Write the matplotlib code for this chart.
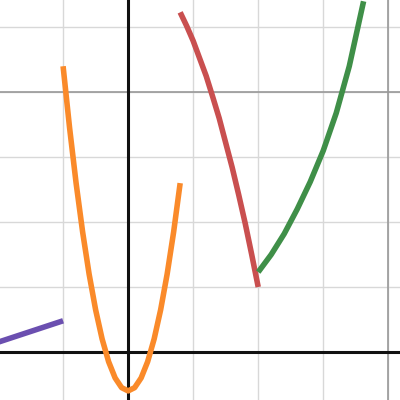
import numpy as np
import matplotlib.pyplot as plt

# values (grid unit = 1)
purple_x = [-2.0, -1.0]
purple_y = [0.15, 0.48]

orange_x = [-1.0, -0.9, -0.8, -0.7, -0.6, -0.5, -0.4, -0.3, -0.2, -0.1, 0.0,
            0.1, 0.2, 0.3, 0.4, 0.5, 0.6, 0.7, 0.8]
orange_y = [4.4, 3.45, 2.6, 1.85, 1.2, 0.65, 0.2, -0.15, -0.4, -0.55, -0.6,
            -0.55, -0.4, -0.15, 0.2, 0.65, 1.2, 1.85, 2.6]

red_x = [0.8, 0.9, 1.0, 1.1, 1.2, 1.3, 1.4, 1.5, 1.6, 1.7, 1.8, 1.9, 2.0]
red_y = [5.23, 5.02, 4.79, 4.52, 4.25, 3.93, 3.6, 3.22, 2.84, 2.42, 1.98, 1.5, 1.0]

green_x = [2.0, 2.2, 2.4, 2.6, 2.8, 3.0, 3.2, 3.4, 3.62]
green_y = [1.23, 1.5, 1.82, 2.2, 2.62, 3.1, 3.68, 4.4, 5.4]

fig = plt.figure(figsize=(4, 4), dpi=100)
ax = fig.add_axes([0, 0, 1, 1])
ax.set_xlim(-1.97, 4.18)
ax.set_ylim(-0.74, 5.42)

for v in range(-1, 5):
    ax.axvline(v, color='#d8d8d8', lw=1, zorder=0)
for v in range(0, 6):
    ax.axhline(v, color='#d8d8d8', lw=1, zorder=0)
ax.axvline(4, color='#999999', lw=1.2, zorder=0)
ax.axhline(4, color='#999999', lw=1.2, zorder=0)
ax.axvline(0, color='#111111', lw=2.2, zorder=1)
ax.axhline(0, color='#111111', lw=2.2, zorder=1)

kw = dict(lw=4, solid_capstyle='butt', solid_joinstyle='round', zorder=3)
ax.plot(purple_x, purple_y, color='#6b4fb0', **kw)
ax.plot(orange_x, orange_y, color='#fa8a2a', **kw)
ax.plot(red_x, red_y, color='#c94f4f', **kw)
ax.plot(green_x, green_y, color='#3f8f48', **kw)

ax.set_xticks([])
ax.set_yticks([])
for s in ax.spines.values():
    s.set_visible(False)

fig.savefig('out.png', dpi=100)
